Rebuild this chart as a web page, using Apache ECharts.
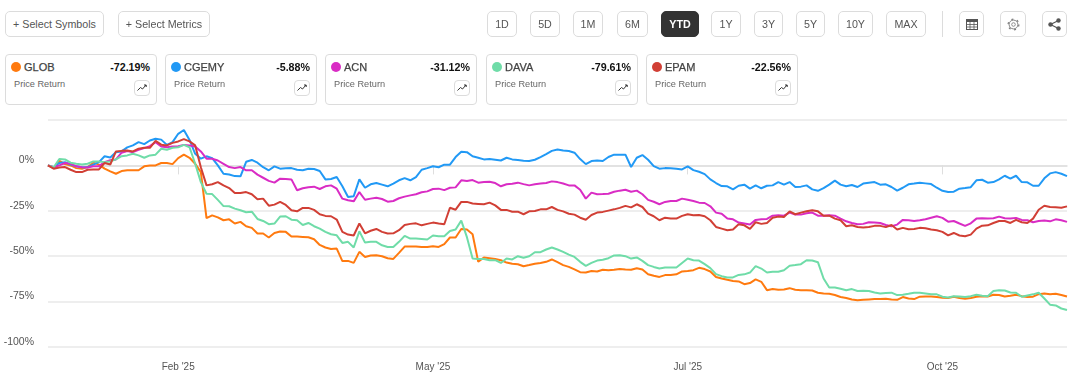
<!DOCTYPE html>
<html><head><meta charset="utf-8">
<script src="https://cdn.jsdelivr.net/npm/echarts@6/dist/echarts.min.js"></script>
<style>
html,body{margin:0;padding:0;background:#fff;width:1076px;height:381px;overflow:hidden;font-family:"Liberation Sans",Arial,sans-serif}
#chart{position:absolute;left:0;top:0;width:1076px;height:381px}
.b{position:absolute;box-sizing:border-box;border:1px solid #dcdcdc;border-radius:5px;background:#fff;color:#555;font-size:10.7px;display:flex;align-items:center;justify-content:center;height:26px;top:11px}
.b.on{background:#333;color:#fff;border-color:#333;font-weight:bold}
.card{position:absolute;box-sizing:border-box;top:54px;height:51px;width:152px;border:1px solid #dcdcdc;border-radius:4px;background:#fff}
.dot{position:absolute;left:5px;top:7px;width:10px;height:10px;border-radius:50%}
.sym{position:absolute;left:18px;top:6px;font-size:11px;font-weight:500;color:#444;-webkit-text-stroke:.25px #444}
.val{position:absolute;right:6px;top:6px;font-size:10.7px;font-weight:bold;color:#111}
.pr{position:absolute;left:8px;top:24px;font-size:9.2px;color:#666}
.ic{position:absolute;right:6px;top:25px;width:16px;height:16px;box-sizing:border-box;border:1px solid #dcdcdc;border-radius:4px}
.sep{position:absolute;left:942px;top:11px;width:1px;height:26px;background:#dcdcdc}
</style></head><body>
<div id="chart"></div>
<div id="ui"></div>
<script>
const tickLabels = {23:"Feb '25",68:"May '25",113:"Jul '25",158:"Oct '25"};
const pointCount = 181;
const categories = Array.from({length:pointCount},(_, i)=>tickLabels[i]||String(i));
const yTicks = [25,0,-25,-50,-75,-100];

const GLOB = [0,-1.5,2.5,.7,0,-1.5,-1.8,-.9,1.5,.4,
-1.8,-3.3,-4.6,-3.1,-2.7,-2.7,-2.7,-.5,0,0,
1.3,1.3,.7,4,5.9,4.2,.9,-3.7,-29,-27.5,
-28.6,-30.2,-29.7,-32,-31.1,-33.5,-34.4,-37.5,-37.5,-39.7,
-37.2,-36.4,-36.6,-39.2,-39.2,-39.4,-39.6,-40.7,-43.8,-45.2,
-46,-45.8,-52.7,-52.6,-53.7,-47.6,-50.4,-49.6,-49.5,-50,
-51.1,-51.5,-48.2,-44.7,-44.7,-44.7,-45,-44.9,-44.5,-44.9,
-43.4,-39.7,-39.7,-35,-35.3,-37.9,-53.1,-50.7,-51.1,-51.6,
-52.2,-53.5,-54.2,-54.4,-55.5,-54.9,-54.2,-53.7,-53.1,-51.8,
-53.3,-54.9,-55.9,-57.3,-58.8,-59,-58.2,-58.4,-57.5,-57.7,
-57.5,-57,-57.3,-57.5,-56.6,-57.3,-59.9,-60.8,-61.4,-60.4,
-60.4,-60,-58.4,-58.2,-57.7,-56.4,-57.1,-58.4,-61.5,-62.3,
-63,-63.6,-63.9,-65.4,-64.8,-62.8,-64.1,-68.7,-68.1,-68.5,
-68.3,-67.6,-68.5,-68.7,-68.7,-68.9,-70.1,-70.5,-70.7,-71.4,
-72.5,-73,-73.8,-74.2,-74,-73.8,-73.6,-73.6,-73.4,-73.8,
-74,-72.5,-73.3,-73.6,-72.3,-72.2,-72.2,-72.5,-72.9,-73,
-72.3,-73,-73.4,-73,-72.3,-72,-72.2,-71.2,-71.4,-72.2,
-71.8,-71.2,-72,-72.5,-72.3,-70.9,-70.5,-71,-70.7,-71.4,
-72.19];

const CGEMY = [0,-1,1.3,1.8,.5,-.5,-1,-1,.4,1.8,
5,4.4,7.3,7.7,9.9,11,12.8,11.7,13.7,14.7,
14.2,11.3,12.8,17.4,19.5,14,6.4,3.7,5,4,
0,-4.6,-5,-5.9,-6,2,3,1.5,-1,-2.7,
-.5,-1.8,-1.6,-1.5,-2.4,-2.7,-1.8,-2,-3.1,-7.7,
-7.5,-6.4,-11.5,-17.4,-17,-7.7,-12.3,-10.4,-9.7,-10.6,
-11.5,-10,-8.2,-7,-8.2,-6.4,-2.4,-1.5,-.5,-1,
.4,.4,4.6,7.5,7.3,5,4.2,3.3,3.5,3.1,
2.7,4.2,3.3,3,2.6,2.4,3.1,4.6,6.2,8,
8.8,8.2,7.9,7,3.5,.7,2.4,2.7,2.4,4.6,
5.9,5.9,5.9,-.9,4.2,5.7,3.1,-.4,-1.8,-1.5,
-1.6,-1.8,-2.2,-.5,-2.6,-3.5,-4.8,-7.7,-9.7,-11.4,
-11.5,-13.2,-11.2,-10.6,-12.8,-11,-12.6,-11.2,-11,-9.2,
-10.6,-9.2,-11.9,-11.7,-11,-13.2,-14,-12.5,-10.6,-8.4,
-10.6,-11.5,-10.8,-11.9,-10,-9.5,-9.2,-10.6,-10.4,-11.9,
-13.9,-12.3,-10.4,-10,-9.5,-9.9,-10.3,-12.3,-14,-14.7,
-14.5,-12.8,-12.5,-12,-8.2,-7.9,-9.5,-9.2,-7.7,-5.7,
-7.3,-5.7,-9.2,-9.3,-11.2,-11.2,-7.1,-4.4,-3.7,-4.6,
-5.88];

const ACN = [0,-1,0,1.3,.9,-.5,-1,-1.1,-.5,-.4,
1.8,2.9,3.3,7,7.9,7.3,8.6,9.5,10.6,12.8,
10.4,10,10.4,10.6,11.3,11,10.4,7.7,3.7,3.7,
2.7,.9,-.9,-1.5,-.9,-2.7,-2.7,-5.1,-6.8,-8.5,
-9.5,-7.3,-7.5,-7.7,-13.7,-12.6,-12,-11.7,-13,-11.5,
-11,-12.8,-18.3,-19.2,-19.8,-14.7,-18.9,-18.3,-17.8,-18.5,
-20,-19.6,-18.1,-17.2,-16.5,-15.9,-14.8,-14.3,-13,-12.8,
-13.6,-12.3,-12.1,-8.2,-8.6,-8.1,-9.5,-9.2,-9,-9.7,
-11.5,-10.4,-10.1,-9.5,-10.3,-11,-10.4,-10,-9.7,-8.8,
-9.2,-10,-11,-11,-13.4,-18.3,-15,-15.9,-15.8,-15.6,
-14.5,-13.9,-13.4,-14.5,-13.9,-15.9,-19,-20,-21.4,-20.1,
-19.6,-19.6,-18.3,-18.9,-19.6,-20.5,-20.7,-22.5,-26,-26.6,
-29.3,-29.7,-31.5,-32,-32.6,-30,-29.7,-29.5,-27.7,-27.5,
-27.7,-26,-27.1,-27.1,-26.4,-26,-27.7,-27.7,-27.5,-27.7,
-29.3,-30.8,-31.7,-32.4,-32.2,-31.3,-31.5,-31.7,-32.8,-33.5,
-32.6,-30,-30.2,-30.6,-30.2,-29.7,-28.8,-28,-28.9,-31,
-30.6,-32,-33.3,-31.9,-29.3,-29.1,-29.3,-29.1,-28.2,-29.1,
-29.3,-28.9,-30,-30.2,-31.3,-30.6,-30.4,-30.8,-29.7,-30.2,
-31.12];

const DAVA = [0,-1,3.5,3.3,1.5,.9,.5,.9,2.2,2.2,
1.8,2.2,3.3,5.1,5.5,6.4,5.5,4.2,5.5,5.9,
9.2,8.6,9.7,10,11.3,10,.9,-9.2,-15.6,-15.8,
-19,-22.4,-22.5,-23.8,-24.7,-25.8,-25.5,-29.5,-30.6,-32.4,
-32,-28.2,-28,-29.9,-30.2,-32.8,-31.7,-33.5,-34.8,-36.6,
-37.9,-38.5,-42.7,-42.1,-45.2,-36.3,-42.5,-42.1,-42.1,-44,
-44.9,-44.9,-42.1,-38.8,-40.3,-40.3,-40.5,-40.8,-38.6,-39,
-39,-36.1,-35.3,-30.4,-39.5,-51.3,-51.6,-51.5,-52.2,-52.2,
-53.7,-51.3,-51.8,-50,-50.9,-50,-47.8,-47.8,-46.3,-45.2,
-46.3,-47.6,-49.1,-50.4,-53.1,-55.3,-53.7,-52.4,-52,-51.1,
-49.6,-49.5,-50,-51.3,-50.7,-52.6,-54.9,-55.9,-56.8,-56.2,
-56.2,-56.2,-53.7,-51.3,-52.2,-52.4,-54.4,-56.6,-59.9,-61,
-61.7,-61.7,-60.3,-60,-59,-55.5,-56.8,-59,-58.6,-58.6,
-57.7,-55.3,-54.9,-54.4,-52.2,-52.4,-53.3,-62.3,-67.2,-67.2,
-67.9,-68.7,-68.1,-69.2,-69,-69.2,-70,-70.5,-70.3,-70.1,
-71.4,-71.2,-70.7,-70.1,-70.1,-70.5,-70.9,-71,-72.3,-72.7,
-72,-72.2,-72.5,-72,-71.2,-71.8,-72,-69.2,-68.7,-68.9,
-70,-70.1,-72.3,-71.6,-71,-70.1,-73.3,-76.7,-77.1,-78.8,
-79.61];

const EPAM = [0,-1.8,-1.2,-.9,-2.4,-3.7,-3.7,-2.4,-2.2,-2.2,
1.3,.5,7.7,8,8.2,7.7,9.2,9.7,9.7,13.5,
11.4,11,12.4,13.2,14.5,13.2,11,-1,-11,-10.4,
-9.2,-11,-12.5,-15.2,-15.2,-14.7,-15.9,-18.7,-18.3,-22.2,
-21.6,-20.1,-21.8,-24.7,-25.3,-23.4,-23.4,-24.5,-26.9,-27.8,
-28,-29.8,-36.6,-38.1,-38.6,-32,-37.4,-36,-35,-36.6,
-37.5,-37.4,-35.7,-32.8,-32.2,-31.9,-33,-32.2,-31.5,-32,
-32.4,-23.3,-24.4,-20.1,-20.1,-21,-21.2,-21.4,-20.5,-22,
-24.5,-24.5,-25.5,-25.5,-26.9,-25.3,-25.1,-24.2,-24.2,-22.9,
-24.5,-25.3,-26.6,-27.1,-28.8,-29.9,-27.3,-26,-25.6,-24.9,
-24.2,-23.4,-22.3,-23.1,-21.4,-22.9,-26.6,-28,-30.2,-28.8,
-29.3,-29.3,-27.8,-26.9,-27.5,-27.3,-28,-30.2,-33.9,-34.8,
-35.7,-35.3,-32.4,-33,-35,-31.3,-32.2,-31.7,-28.8,-28.2,
-28.4,-25.3,-26.9,-26,-25.3,-24.7,-25.3,-27.7,-27.7,-29.3,
-30.2,-33.5,-33,-33.9,-34.2,-33.9,-33.3,-33.3,-34,-32.8,
-35.3,-34.4,-35.2,-35,-34.4,-34.6,-35.3,-35.7,-36.6,-38.5,
-37.2,-38.6,-39,-38.1,-34.8,-33.2,-33,-31.7,-30.6,-30.6,
-31.7,-30,-31.3,-31.7,-29.3,-24.4,-22.2,-22.9,-23.1,-23.3,
-22.56];

const symbols = ["GLOB","CGEMY","ACN","DAVA","EPAM"];
const returns = ["-72.19%","-5.88%","-31.12%","-79.61%","-22.56%"];
const colors = ["#ff7a0f","#2199f5","#d92cc4","#6fdca8","#d13f35"];
const seriesValues = [GLOB,CGEMY,ACN,DAVA,EPAM];
const rangeLabels = ["1D","5D","1M","6M","YTD","1Y","3Y","5Y","10Y","MAX"];
const rangeX = [[487,30],[530,30],[573,30],[617,31],[661,38],[711,30],[754,29],[796,29],[838,35],[886,40]];
const cardX = [5,165,325,486,646];

const ui = document.getElementById('ui');
function add(html){ui.insertAdjacentHTML('beforeend',html);}
add(`<div class="b" style="left:5px;width:99px">+ Select Symbols</div>`);
add(`<div class="b" style="left:118px;width:92px">+ Select Metrics</div>`);
rangeLabels.forEach((t,i)=>add(`<div class="b${t==='YTD'?' on':''}" style="left:${rangeX[i][0]}px;width:${rangeX[i][1]}px">${t}</div>`));
add(`<div class="sep"></div>`);
add(`<div class="b" style="left:959px;width:25px"><svg width="12" height="11" viewBox="0 0 12 11"><rect x=".5" y=".5" width="11" height="10" fill="none" stroke="#555"/><rect x="0" y="0" width="12" height="3" fill="#555"/><path d="M4 3v8M8 3v8M0 5.5h12M0 8h12" stroke="#555" stroke-width=".8"/></svg></div>`);
add(`<div class="b" style="left:1000px;width:26px"><svg width="13" height="13" viewBox="0 0 13 13"><circle cx="6.5" cy="6.5" r="1.8" fill="none" stroke="#777" stroke-width=".8"/><circle cx="6.5" cy="6.5" r="4.4" fill="none" stroke="#777" stroke-width=".9"/><circle cx="6.5" cy="6.5" r="5.4" fill="none" stroke="#777" stroke-width="1.2" stroke-dasharray="2 3.65"/></svg></div>`);
add(`<div class="b" style="left:1042px;width:25px"><svg width="13" height="13" viewBox="0 0 13 13"><path d="M10.5 2.5L2.5 6.5L10.5 10.5" fill="none" stroke="#555" stroke-width="1.2"/><circle cx="10.5" cy="2.5" r="2.2" fill="#555"/><circle cx="2.5" cy="6.5" r="2.2" fill="#555"/><circle cx="10.5" cy="10.5" r="2.2" fill="#555"/></svg></div>`);
symbols.forEach((s,i)=>add(`<div class="card" style="left:${cardX[i]}px"><span class="dot" style="background:${colors[i]}"></span><span class="sym">${s}</span><span class="val">${returns[i]}</span><span class="pr">Price Return</span><span class="ic"><svg width="14" height="14" viewBox="0 0 14 14" style="display:block"><path d="M2.5 9.5L5.5 6.5L7.5 8L11 4M9 4h2.2v2" fill="none" stroke="#333" stroke-width="1"/></svg></span></div>`));

const chart = echarts.init(document.getElementById('chart'),null,{renderer:'canvas'});
chart.setOption({
  animation:false,
  grid:{left:48,right:9,top:120,bottom:34,containLabel:false},
  xAxis:{type:'category',data:categories,boundaryGap:false,
    axisLine:{lineStyle:{color:'#dedede',width:1.5}},
    axisTick:{length:9,alignWithLabel:true,interval:(i)=>!!tickLabels[i],lineStyle:{color:'#dedede',width:1}},
    axisLabel:{interval:(i)=>!!tickLabels[i],formatter:(v,i)=>tickLabels[i]||'',color:'#555',fontSize:10,fontFamily:'Liberation Sans',margin:15},
    splitLine:{show:false}},
  yAxis:{type:'value',min:-100,max:25,interval:25,
    axisLine:{show:false},axisTick:{show:false},
    axisLabel:{formatter:(v)=>yTicks.includes(v)&&v!==25?v+'%':'',color:'#555',fontSize:10.5,fontFamily:'Liberation Sans',margin:14,verticalAlign:'bottom',lineHeight:10},
    splitLine:{lineStyle:{color:'#e9e9e9',width:1.5}}},
  series:seriesValues.map((d,i)=>({name:symbols[i],type:'line',data:d,symbol:'none',smooth:false,
    lineStyle:{color:colors[i],width:2},itemStyle:{color:colors[i]},z:2+i,clip:false}))
});
</script></body></html>
